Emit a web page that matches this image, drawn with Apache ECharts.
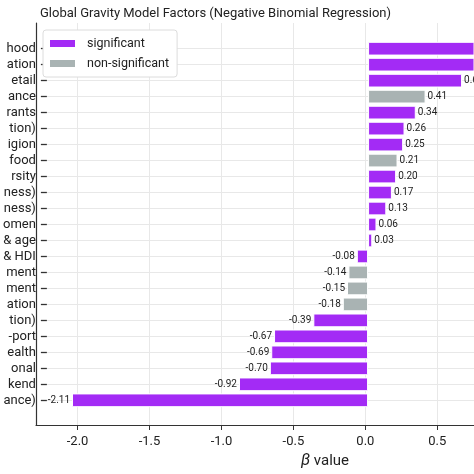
<!DOCTYPE html>
<html>
<head>
<meta charset="utf-8">
<script src="https://cdn.jsdelivr.net/npm/echarts@6/dist/echarts.min.js"></script>
<style>
  html, body { margin: 0; padding: 0; background: #fff; }
  #chart { width: 474px; height: 474px; }
</style>
</head>
<body>
<div id="chart"></div>
<script>
// factor labels (left edge of the picture is cut, only the visible endings remain)
var factorNames = ['hood', 'ation', 'etail', 'ance', 'rants', 'tion)', 'igion', 'food',
  'rsity', 'ness)', 'ness)', 'omen', '& age', '& HDI', 'ment', 'ment', 'ation',
  'tion)', '-port', 'ealth', 'onal', 'kend', 'ance)'];
// beta coefficients, top to bottom (first two run past the right edge)
var betaValues = [0.98, 0.88, 0.67, 0.41, 0.34, 0.26, 0.25, 0.21,
  0.20, 0.17, 0.13, 0.06, 0.03, -0.08, -0.14, -0.15, -0.18,
  -0.39, -0.67, -0.69, -0.70, -0.92, -2.11];
// 1 = significant, 0 = non-significant
var isSignificant = [1, 1, 1, 0, 1, 1, 1, 0,
  1, 1, 1, 1, 1, 1, 0, 0, 0,
  1, 1, 1, 1, 1, 1];

var xMin = -2.289;
var xMax = 0.755;
var FONT = 'Roboto, sans-serif';

function seriesData(flag) {
  return betaValues.map(function (v, i) {
    if (isSignificant[i] !== flag) return '-';
    return {
      value: v,
      label: { position: v >= 0 ? 'right' : 'left' }
    };
  });
}

var chart = echarts.init(document.getElementById('chart'));

var option = {
  animation: false,
  backgroundColor: '#fff',
  title: {
    text: 'Global Gravity Model Factors (Negative Binomial Regression)',
    left: 35,
    top: 2,
    textStyle: { fontFamily: FONT, fontSize: 13, fontWeight: 'normal', color: '#222' }
  },
  legend: {
    orient: 'vertical',
    left: 43,
    top: 30,
    itemWidth: 27,
    itemHeight: 9,
    itemGap: 7,
    icon: 'rect',
    padding: [7, 8, 7, 5],
    borderColor: '#dcdcdc',
    borderWidth: 1,
    borderRadius: 3,
    backgroundColor: '#fff',
    textStyle: { fontFamily: FONT, fontSize: 12.5, color: '#222', padding: [0, 0, 0, 6] },
    data: ['significant', 'non-significant']
  },
  grid: [
    // bars
    { left: 36, right: 0, top: 40.7, bottom: 65.7, containLabel: false },
    // frame with axes and vertical grid lines
    { left: 36, right: 0, top: 23, bottom: 49, containLabel: false }
  ],
  xAxis: [
    {
      gridIndex: 0, type: 'value', min: xMin, max: xMax, show: false
    },
    {
      gridIndex: 1, type: 'value', min: xMin, max: xMax, splitNumber: 5,
      axisLine: { show: true, onZero: false, lineStyle: { color: '#333', width: 1.2 } },
      axisTick: { show: true, length: 5, lineStyle: { color: '#333' } },
      axisLabel: {
        showMinLabel: false, showMaxLabel: false, margin: 10,
        fontFamily: FONT, fontSize: 13, color: '#222',
        formatter: function (v) { return v.toFixed(1); }
      },
      splitLine: { show: true, lineStyle: { color: '#e8e8e8', width: 1 } },
      name: '{b|β} value',
      nameLocation: 'middle',
      nameGap: 28,
      nameTextStyle: {
        fontFamily: FONT, fontSize: 15, color: '#222', padding: [0, 0, 0, 140],
        rich: { b: { fontFamily: FONT, fontSize: 16, fontStyle: 'italic', color: '#222' } }
      }
    }
  ],
  yAxis: [
    {
      gridIndex: 0, type: 'category', inverse: true, data: factorNames,
      axisLine: { show: false, onZero: false },
      axisTick: { show: true, alignWithLabel: true, length: 6, lineStyle: { color: '#333', width: 1.3 } },
      axisLabel: { margin: 11, fontFamily: FONT, fontSize: 13, color: '#222', interval: 0 },
      splitLine: { show: true, alignWithLabel: true, lineStyle: { color: '#e8e8e8', width: 1 } }
    },
    {
      gridIndex: 1, type: 'value', min: 0, max: 1,
      axisLine: { show: true, onZero: false, lineStyle: { color: '#333', width: 1.2 } },
      axisTick: { show: false },
      axisLabel: { show: false },
      splitLine: { show: false }
    }
  ],
  series: [
    {
      name: 'significant',
      type: 'bar',
      xAxisIndex: 0, yAxisIndex: 0,
      barGap: '-100%',
      barCategoryGap: '14%',
      data: seriesData(1),
      itemStyle: { color: '#a32bf5', borderColor: '#fff', borderWidth: 1 },
      label: {
        show: true, distance: 2, fontFamily: FONT, fontSize: 10, color: '#222',
        formatter: function (p) { return p.value.toFixed(2); }
      }
    },
    {
      name: 'non-significant',
      type: 'bar',
      xAxisIndex: 0, yAxisIndex: 0,
      barGap: '-100%',
      barCategoryGap: '14%',
      data: seriesData(0),
      itemStyle: { color: '#a9b3b3', borderColor: '#fff', borderWidth: 1 },
      label: {
        show: true, distance: 2, fontFamily: FONT, fontSize: 10, color: '#222',
        formatter: function (p) { return p.value.toFixed(2); }
      }
    }
  ]
};

chart.setOption(option);
</script>
</body>
</html>
